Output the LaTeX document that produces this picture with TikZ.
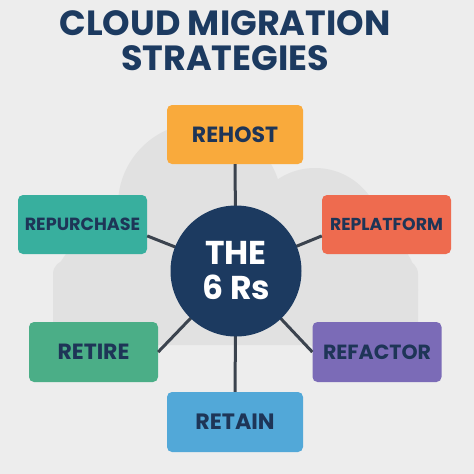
\documentclass[tikz,border=0pt]{standalone}
\usepackage{fontspec}
\setmainfont{Poppins}
\definecolor{bg}{HTML}{EDEDED}
\definecolor{cloudc}{HTML}{E1E1E1}
\definecolor{navy}{HTML}{1C3A60}
\definecolor{txtnavy}{HTML}{1E3557}
\definecolor{linec}{HTML}{3B434E}
\definecolor{corange}{HTML}{F9AA3C}
\definecolor{cteal}{HTML}{38AF9E}
\definecolor{cred}{HTML}{EE6B4F}
\definecolor{cgreen}{HTML}{4BAE87}
\definecolor{cpurple}{HTML}{7B6BB7}
\definecolor{cblue}{HTML}{52A8D8}
\newcommand{\fsz}[1]{\bfseries\fontsize{#1}{#1}\selectfont}
\tikzset{
  rbox/.style={rectangle, rounded corners=5pt, minimum height=59pt, inner sep=0pt,
     text=txtnavy},
  wide/.style={minimum width=136pt},
  narrow/.style={minimum width=129pt},
  conn/.style={draw=linec, line width=3pt},
}
\begin{document}
\begin{tikzpicture}[x=1pt,y=-1pt]
\useasboundingbox (0,0) rectangle (474,474);
\fill[bg] (0,0) rectangle (474,474);
% cloud
\begin{scope}[cloudc]
\fill (200,205) circle (82);
\fill (315,235) circle (67);
\fill (350,290) circle (68);
\fill (115,292) circle (62);
\fill[rounded corners=14pt] (53,260) rectangle (418,345);
\fill (115,230) rectangle (380,300);
\end{scope}
% title
\node[text=navy, font=\bfseries\fontsize{35}{35}\selectfont, align=center] (title) at (225,41)
  {CLOUD MIGRATION\\STRATEGIES};
% nodes
\node[rbox, wide, fill=corange, font=\fsz{22}] (rehost) at (235,134.5) {REHOST};
\node[rbox, narrow, fill=cteal, font=\fsz{17.6}] (repurchase) at (82.5,224.5) {REPURCHASE};
\node[rbox, narrow, fill=cred, font=\fsz{17.3}] (replatform) at (386.5,224.5) {REPLATFORM};
\node[rbox, narrow, fill=cgreen, minimum height=60pt, font=\fsz{22}] (retire) at (93.5,352) {RETIRE};
\node[rbox, narrow, fill=cpurple, minimum height=60pt, font=\fsz{20.5}] (refactor) at (377,352) {REFACTOR};
\node[rbox, wide, fill=cblue, minimum height=60pt, font=\fsz{22.2}] (retain) at (235,422) {RETAIN};
\coordinate (c) at (236,271);
% connectors
\draw[conn] (c) -- (rehost.south);
\draw[conn] (c) -- (repurchase.-10);
\draw[conn] (c) -- (replatform.190);
\draw[conn] (c) -- (retire.east);
\draw[conn] (c) -- (refactor.west);
\draw[conn] (c) -- (retain.north);
% center circle
\node[circle, fill=navy, minimum size=131pt, inner sep=0pt, text=white, align=center,
      font=\bfseries\fontsize{33}{35}\selectfont] (hub) at (c) {THE\\6 Rs};
\end{tikzpicture}
\end{document}
